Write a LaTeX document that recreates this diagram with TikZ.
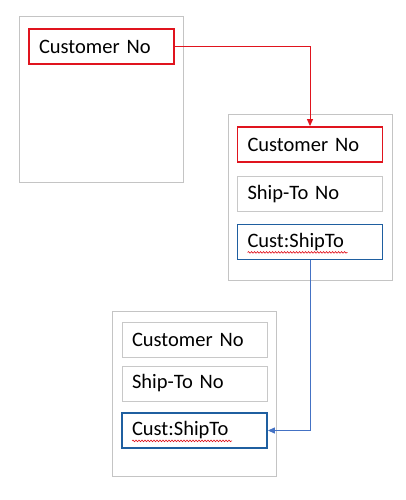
\documentclass[tikz,border=0pt]{standalone}
\usepackage{fontspec}
\setmainfont{Carlito}
\usetikzlibrary{arrows.meta,calc,decorations.pathmorphing}
\definecolor{tblRed}{HTML}{E0141E}
\definecolor{tblBlue}{HTML}{1F5FA0}
\definecolor{tblLink}{HTML}{4472C4}
\definecolor{tblGray}{HTML}{C8C8C8}
\definecolor{tblPanel}{HTML}{C4C4C4}
\tikzset{
  tbl panel/.style={draw=tblPanel, line width=1pt, minimum width=164pt, minimum height=165pt, inner sep=0pt},
  tbl field/.style={draw=tblGray, line width=1pt, minimum height=35pt, text width=125pt, inner xsep=10pt, inner ysep=0pt, align=left, font=\fontsize{20.5}{24}\selectfont},
  tbl key/.style={tbl field, draw=tblRed, line width=1.8pt},
  tbl ref/.style={tbl field, draw=tblBlue, line width=1.8pt},
  tbl link/.style={line width=1pt, -{Triangle[length=7pt,width=6pt]}},
  tbl squiggle/.style={draw=tblRed, line width=0.6pt, decorate, decoration={snake, amplitude=0.8pt, segment length=3pt}},
}

\begin{document}
\begin{tikzpicture}[x=1pt,y=-1pt]
\useasboundingbox(0,0)rectangle(406,500);
% three tables
\node[tbl panel](p1)at(101.5,99.5){};\node[tbl panel](p2)at(310,197.5){};\node[tbl panel](p3)at(194,394){};
\node[tbl key](k1)at(101.5,46.5){Customer No};
\node[tbl key](k2)at(310,144.5){Customer No};\node[tbl field](s2)at(310,194){Ship-To No};\node[tbl ref](r2)at(310,242){Cust:ShipTo};
\node[tbl field](k3)at(194.5,339.5){Customer No};\node[tbl field](s3)at(194.5,383.5){Ship-To No};\node[tbl ref](r3)at(194.5,430.5){Cust:ShipTo};
% spell check marks
\draw[tbl squiggle]($(r2.south west)+(11,-8)$)--++(100,0);\draw[tbl squiggle]($(r3.south west)+(11,-8)$)--++(100,0);
% links
\draw[tbl link,tblRed](k1.east)-|(k2.north);\draw[tbl link,tblLink](r2.south)|-(r3.east);
\end{tikzpicture}
\end{document}
